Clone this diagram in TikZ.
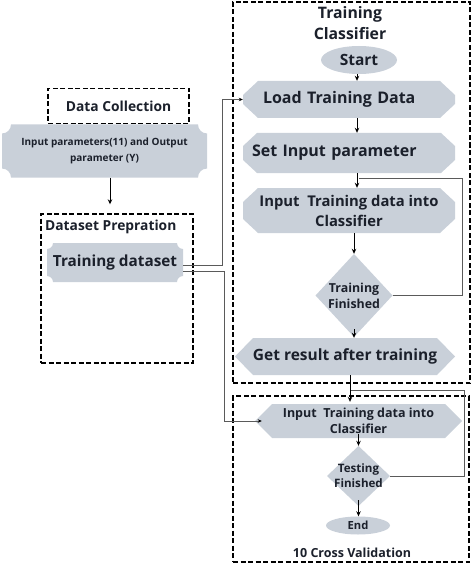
\documentclass[tikz,border=0pt]{standalone}
\usepackage{fontspec}
\setmainfont{Open Sans}
\usetikzlibrary{shapes.geometric,arrows.meta,calc}
\definecolor{boxfill}{HTML}{C9D0D9}
\definecolor{txt}{HTML}{1B202B}
\definecolor{lnc}{HTML}{5A5A5A}
\tikzset{
  dashbox/.style={rectangle, draw=black, line width=1.4pt, dash pattern=on 5pt off 2.5pt, inner sep=0pt},
  octo/.style 2 args={rectangle, inner sep=0pt, text=txt,
    path picture={\fill[boxfill]
      ([xshift=#1]path picture bounding box.north west) --
      ([xshift=-#1]path picture bounding box.north east) --
      ([yshift=-#2]path picture bounding box.north east) --
      ([yshift=#2]path picture bounding box.south east) --
      ([xshift=-#1]path picture bounding box.south east) --
      ([xshift=#1]path picture bounding box.south west) --
      ([yshift=#2]path picture bounding box.south west) --
      ([yshift=-#2]path picture bounding box.north west) -- cycle;}},
  notch/.style={rectangle, inner sep=0pt, text=txt,
    path picture={\fill[boxfill]
      ([xshift=#1]path picture bounding box.north west) --
      ([xshift=-#1]path picture bounding box.north east) arc[start angle=180, end angle=270, radius=#1] --
      ([yshift=#1]path picture bounding box.south east) arc[start angle=90, end angle=180, radius=#1] --
      ([xshift=#1]path picture bounding box.south west) arc[start angle=0, end angle=90, radius=#1] --
      ([yshift=-#1]path picture bounding box.north west) arc[start angle=270, end angle=360, radius=#1] -- cycle;}},
  diam/.style={rectangle, inner sep=0pt, text=txt, align=center,
    path picture={\fill[boxfill]
      (path picture bounding box.north) -- (path picture bounding box.east) --
      (path picture bounding box.south) -- (path picture bounding box.west) -- cycle;}},
  oval/.style={ellipse, fill=boxfill, inner sep=0pt, text=txt},
  lbl/.style={text=txt, inner sep=0pt},
  arr/.style={-{Stealth[length=5pt,width=4.5pt]}, line width=1pt, black},
  conn/.style={draw=lnc, line width=0.9pt},
  connarr/.style={draw=lnc, line width=0.9pt, -{Stealth[length=4pt,width=3.5pt,color=black]}},
}
\newcommand{\fs}[2]{\bfseries\fontsize{#1}{#2}\selectfont}
\begin{document}
\begin{tikzpicture}[x=1pt,y=-1pt]
\useasboundingbox (0,0) rectangle (474,564);

% left column
\node[dashbox, minimum width=141pt, minimum height=35pt, text=txt, font=\fs{13.8}{16}] (dc) at (118.5,106) {Data Collection};
\node[notch=9pt, minimum width=205pt, minimum height=53pt, align=center, font=\fs{10}{15.5}] (ip) at (104.5,151) {Input parameters(11) and Output\\parameter (Y)};
\node[dashbox, minimum width=152pt, minimum height=149pt] (ds) at (117,288.5) {};
\node[lbl, anchor=west, font=\fs{13.8}{16}] (dst) at (45,227) {Dataset Prepration};
\node[notch=6pt, minimum width=136pt, minimum height=39pt, font=\fs{15.3}{17}] (td) at (115,262.5) {Training dataset};

% training classifier
\node[dashbox, minimum width=237pt, minimum height=381pt] (tc) at (351.5,192.5) {};
\node[lbl, align=center, font=\fs{15.8}{21}] (tct) at (350,23) {Training\\Classifier};
\node[oval, minimum width=76pt, minimum height=28pt, font=\fs{15.5}{17}] (st) at (359,60) {Start};
\node[octo={15pt}{14pt}, minimum width=212pt, minimum height=37pt, text width=172pt, align=left, font=\fs{16}{18}] (ltd) at (349,99.5) {Load Training Data};
\node[octo={14pt}{13pt}, minimum width=212pt, minimum height=40pt, text width=194pt, align=left, font=\fs{16}{18}] (sip) at (349,153) {Set Input parameter};
\node[octo={15pt}{14pt}, minimum width=212pt, minimum height=45pt, align=center, font=\fs{14.8}{20}] (itd) at (349,210.5) {Input\ \ Training data into\\Classifier};
\node[diam, minimum width=77pt, minimum height=83pt, font=\fs{12.4}{16}] (tf) at (354,295.5) {Training\\Finished};
\node[octo={18pt}{18.5pt}, minimum width=220pt, minimum height=37pt, font=\fs{15.5}{18}] (gr) at (345,356.5) {Get result after training};

% cross validation
\node[dashbox, minimum width=236pt, minimum height=166pt] (cv) at (351,479) {};
\node[octo={17pt}{17pt}, minimum width=207pt, minimum height=34pt, align=center, font=\fs{12.5}{16}] (itdb) at (358.5,421) {Input\ \ Training data into\\Classifier};
\node[diam, minimum width=63pt, minimum height=60pt, font=\fs{11.6}{15}] (tsf) at (358.5,476) {Testing\\Finished};
\node[oval, minimum width=64pt, minimum height=18pt, font=\fs{11.2}{13}] (en) at (358,525.5) {End};
\node[lbl, font=\fs{12.5}{14}] (cvt) at (352,553) {10 Cross Validation};

% helper coordinates
\coordinate (v1) at (222.5,0);
\coordinate (v2) at (224.5,0);
\coordinate (fb1) at (462,0);
\coordinate (j1) at (359,178);
\coordinate (fb2) at (464,0);
\coordinate (j2) at (351,390);

% arrows
\draw[arr, shorten >=9pt] ([xshift=5.5pt]ip.south) -- ([xshift=5.5pt]ip.south |- ds.north);
\draw[arr] ([xshift=-2pt]st.south) -- ([xshift=-2pt]st.south |- ltd.north);
\draw[arr] ([xshift=8pt]ltd.south) -- ([xshift=8pt]ltd.south |- sip.north);
\draw[arr] ([xshift=8pt]sip.south) -- ([xshift=8pt]sip.south |- itd.north);
\draw[arr] (itd.south -| tf.north) -- (tf.north);
\draw[arr] ([yshift=8pt]tf.south) -- (tf.south |- gr.north);
\draw[arr] ([xshift=5pt]gr.south) -- ([xshift=5pt,yshift=2pt]gr.south |- itdb.north);
\draw[arr] ([yshift=4pt]itdb.south -| tsf.north) -- (tsf.north);
\draw[arr] ([yshift=6pt]tsf.south) -- (tsf.south |- en.north);

% feedback loops
\draw[conn] (tf.east) -- (tf.east -| fb1) -- (fb1 |- j1) -- (j1);
\draw[conn] (tsf.east) -- (tsf.east -| fb2) -- (fb2 |- j2) -- (j2);

% connections from training dataset
\draw[connarr] ([yshift=-2.5pt]td.east) -| (v1 |- ltd.west) -- (ltd.west);
\draw[connarr] ([yshift=-9pt]td.east) -| (v2 |- itdb.west) -- ([xshift=7pt]itdb.west);
\end{tikzpicture}
\end{document}
